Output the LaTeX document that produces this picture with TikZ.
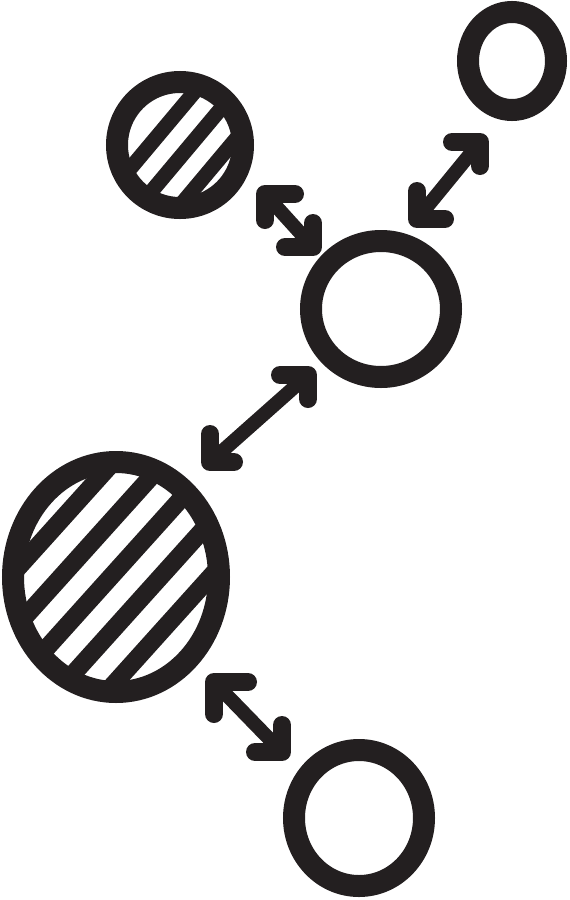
\documentclass[tikz,border=0pt]{standalone}
\usetikzlibrary{calc}
\definecolor{ink}{HTML}{231F20}
\begin{document}
\begin{tikzpicture}[x=1pt,y=-1pt,
  ring/.style={draw=ink, line width=22pt},
  stripe/.style={draw=ink, line width=#1},
  shaft/.style={draw=ink, line width=14pt, line cap=round},
  barb/.style={draw=ink, line width=18pt, line cap=round, line join=round}]
\useasboundingbox (0,0) rectangle (570,900);
% centres
\coordinate (tl) at (180,145);
\coordinate (tr) at (512,61);
\coordinate (mid) at (381,309);
\coordinate (big) at (116,577);
\coordinate (bot) at (359,818);
% hatching of top-left circle
\begin{scope}
  \clip (tl) ellipse [x radius=63, y radius=63];
  \foreach \d in {-23,8,39}
    \draw[stripe=15pt] ({180+\d*sin(50)-120*cos(50)},{145+\d*cos(50)+120*sin(50)}) -- ({180+\d*sin(50)+120*cos(50)},{145+\d*cos(50)-120*sin(50)});
\end{scope}
% hatching of big circle
\begin{scope}
  \clip (big) ellipse [x radius=103, y radius=115];
  \foreach \d in {-79,-41,-4,33,70}
    \draw[stripe=18pt] ({116+\d*sin(48)-200*cos(48)},{577+\d*cos(48)+200*sin(48)}) -- ({116+\d*sin(48)+200*cos(48)},{577+\d*cos(48)-200*sin(48)});
\end{scope}
% rings
\draw[ring] (tl) ellipse [x radius=63, y radius=63];
\draw[ring] (tr) ellipse [x radius=44, y radius=49];
\draw[ring] (mid) ellipse [x radius=70, y radius=68];
\draw[ring] (big) ellipse [x radius=103, y radius=115];
\draw[ring] (bot) ellipse [x radius=65, y radius=68];
% arrows (corner points of the heads)
\coordinate (a1s) at (265,194);
\coordinate (a1e) at (313,247);
\coordinate (a2s) at (417,219);
\coordinate (a2e) at (480,142);
\coordinate (a3s) at (308,375);
\coordinate (a3e) at (210,462);
\coordinate (a4s) at (214,682);
\coordinate (a4e) at (282,752);
\draw[shaft] (a1s) -- (a1e);
\draw[shaft] (a2s) -- (a2e);
\draw[shaft] (a3s) -- (a3e);
\draw[shaft] (a4s) -- (a4e);
% heads
\draw[barb] ($(a1s)+(30,0)$) -- (a1s) -- ($(a1s)+(0,26)$);
\draw[barb] ($(a1e)+(-28,0)$) -- (a1e) -- ($(a1e)+(0,-24)$);
\draw[barb] ($(a2s)+(28,0)$) -- (a2s) -- ($(a2s)+(0,-28)$);
\draw[barb] ($(a2e)+(-28,0)$) -- (a2e) -- ($(a2e)+(0,24)$);
\draw[barb] ($(a3s)+(-28,0)$) -- (a3s) -- ($(a3s)+(0,24)$);
\draw[barb] ($(a3e)+(24,0)$) -- (a3e) -- ($(a3e)+(0,-28)$);
\draw[barb] ($(a4s)+(34,0)$) -- (a4s) -- ($(a4s)+(0,32)$);
\draw[barb] ($(a4e)+(-27,0)$) -- (a4e) -- ($(a4e)+(0,-27)$);
\end{tikzpicture}
\end{document}
